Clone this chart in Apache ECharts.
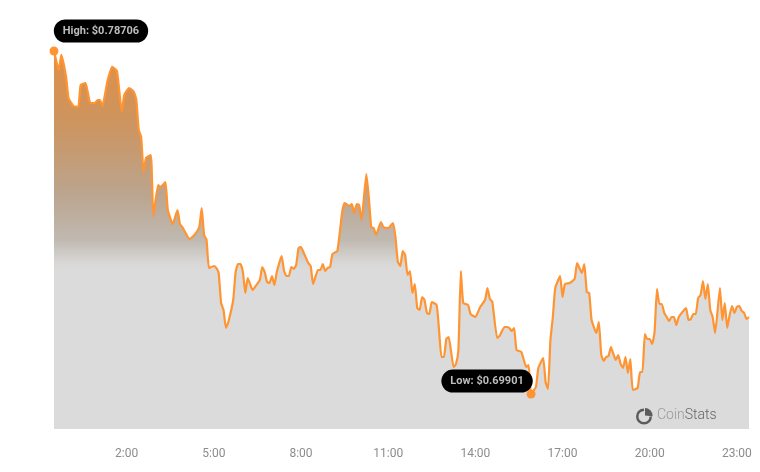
<!DOCTYPE html>
<html><head><meta charset="utf-8">
<style>html,body{margin:0;padding:0;background:#fff}#c{width:760px;height:472px}</style>
<script src="https://cdn.jsdelivr.net/npm/echarts@6/dist/echarts.min.js"></script>
</head><body><div id="c"></div>
<script>
// five-minute sample numbers (0 = 23:30 the previous day) of the line's visible vertices
const slots = [0,2,3,5,6,8,10,11,13,14,15,17,18,19,20,22,24,26,28,29,31,33,34,35,36,37,38,40,41,43,44,46,47,49,51,52,53,56,58,60,61,62,63,64,66,67,68,69,70,71,72,74,75,76,77,78,79,80,82,83,85,86,87,88,89,90,91,92,94,95,96,97,98,99,100,101,102,103,105,106,107,109,110,111,112,113,114,115,117,119,120,122,123,124,125,126,127,129,130,131,132,133,135,136,138,140,141,142,143,144,145,146,147,148,149,150,151,152,153,154,155,156,158,159,160,161,162,163,165,166,167,168,169,171,172,174,176,178,179,180,181,183,184,186,187,188,189,190,191,193,195,196,197,199,200,202,203,204,205,206,207,209,210,211,213,215,216,218,219,220,221,222,224,225,226,227,228,229,230,231,232,233,234,235,236,237,238,239,241,242,243,244,245,246,247,248,249,250,251,252,253,254,255,256,257,258,261,262,263,264,265,266,267,268,269,270,271,272,273,275,276,277,278,279,280,281,282,283,284,285,286,287];
const prices = [.78706,.78219,.78604,.78039,.77500,.77294,.77269,.77833,.77885,.77628,.77371,.77371,.77448,.77448,.77294,.77910,.78296,.78193,.77140,.77577,.77756,.77654,.77448,.76678,.76499,.75575,.75960,.76037,.74471,.75266,.75215,.75343,.74625,.74265,.74625,.74265,.74188,.73880,.73983,.74188,.74676,.73983,.73855,.73136,.73187,.73136,.73008,.72237,.72058,.71596,.71750,.72314,.73033,.73239,.73239,.73033,.72494,.72879,.72571,.72648,.72828,.73162,.73033,.72776,.72751,.72931,.72699,.73033,.73444,.73059,.72931,.72931,.73162,.73110,.73213,.73649,.73675,.73547,.73264,.73187,.72725,.73085,.73085,.73239,.73059,.73136,.73162,.73495,.73572,.74573,.74804,.74727,.74779,.74548,.74779,.74753,.74368,.75549,.74958,.74188,.74163,.73983,.74317,.74188,.74163,.74291,.73932,.73290,.73187,.73572,.73470,.72956,.73059,.72494,.72725,.72109,.72058,.72391,.72314,.71981,.71955,.72263,.72186,.71544,.70851,.70851,.71313,.71365,.70595,.70672,.71031,.73059,.72237,.72186,.71955,.71878,.72135,.72314,.72622,.72340,.72263,.71339,.71390,.71621,.71621,.71596,.71519,.71596,.71031,.70980,.70595,.70646,.69901,.70081,.70569,.70826,.70209,.70030,.71288,.71878,.72622,.72931,.72391,.72725,.72751,.72854,.73264,.73008,.73239,.72520,.72494,.71801,.71467,.71750,.70903,.70749,.70851,.70877,.71108,.70928,.70774,.70903,.70672,.70569,.70851,.70441,.70800,.70004,.70055,.70466,.70466,.71442,.71313,.71313,.71185,.71493,.72597,.72212,.72212,.71981,.71878,.71775,.71878,.71878,.71673,.71878,.72109,.71801,.71827,.71955,.71955,.72366,.72443,.72802,.72340,.72725,.72058,.71878,.71467,.72622,.71801,.72237,.71596,.71929,.72160,.71981,.72135,.72160,.72033,.71981,.71827,.71878];
const highLabel = 'High: $0.78706';
const lowLabel = 'Low: $0.69901';
const brand = ['Coin','Stats'];
const sampleCount = 288;

const categories = [];
for (let i = 0; i < sampleCount; i++) {
  const m = (23 * 60 + 30 + i * 5) % 1440;
  categories.push(Math.floor(m / 60) + ':' + String(m % 60).padStart(2, '0'));
}
const pill = {
  backgroundColor: '#000', color: '#bdbdbd', fontFamily: 'Roboto', fontSize: 11, fontWeight: 'bold',
  borderRadius: 12, padding: [6, 9, 6, 9], position: 'inside'
};
const chart = echarts.init(document.getElementById('c'), null, {renderer: 'canvas'});
chart.setOption({
  animation: false,
  grid: {left: 54, right: 11, top: 51, bottom: 43},
  xAxis: {
    type: 'category', data: categories, boundaryGap: false,
    axisLine: {show: false}, axisTick: {show: false}, splitLine: {show: false},
    axisLabel: {color: '#8c8c8c', fontFamily: 'Roboto', fontSize: 12, margin: 19,
      interval: (i) => i % 36 === 30}
  },
  yAxis: {type: 'value', min: 0.69003, max: 0.78706, show: false, splitLine: {show: false}},
  series: [{
    type: 'line', showSymbol: false, symbol: 'none', smooth: 0.15, clip: false,
    data: slots.map((s, i) => [s, prices[i]]),
    lineStyle: {color: '#ff9433', width: 2.2},
    areaStyle: {
      color: new echarts.graphic.LinearGradient(0, 0, 0, 1, [
        {offset: 0, color: '#e08f45'},
        {offset: 0.2, color: '#cc9561'},
        {offset: 0.38, color: '#bba58f'},
        {offset: 0.5, color: '#c0b9b1'},
        {offset: 0.56, color: '#d8d7d6'},
        {offset: 0.58, color: '#dbdbdb'},
        {offset: 1, color: '#dbdbdb'}
      ]), opacity: 1
    },
    markPoint: {
      symbol: 'circle', symbolSize: 9, itemStyle: {color: '#ff9433'},
      data: [
        {coord: [slots[0], prices[0]], label: {...pill, formatter: highLabel, offset: [47, -20]}},
        {coord: [slots[prices.indexOf(Math.min(...prices))], Math.min(...prices)],
         label: {...pill, formatter: lowLabel, offset: [-44, -13]}}
      ]
    }
  }],
  graphic: [
    {type: 'sector', z: 100, shape: {cx: 644, cy: 416.5, r: 8, r0: 5.5, startAngle: 0, endAngle: -Math.PI / 2, clockwise: true}, style: {fill: '#5c5c5c'}},
    {type: 'sector', z: 100, shape: {cx: 645, cy: 415.5, r: 7.5, r0: 0, startAngle: -Math.PI / 2, endAngle: 0.1}, style: {fill: '#5c5c5c'}},
    {type: 'text', z: 100, left: 657, top: 408, style: {
      rich: {a: {fill: '#9a9a9a', fontFamily: 'Roboto', fontSize: 14, fontWeight: 300},
             b: {fill: '#666', fontFamily: 'Roboto', fontSize: 14, fontWeight: 300}},
      text: '{a|' + brand[0] + '}{b|' + brand[1] + '}'
    }}
  ]
});
</script></body></html>
